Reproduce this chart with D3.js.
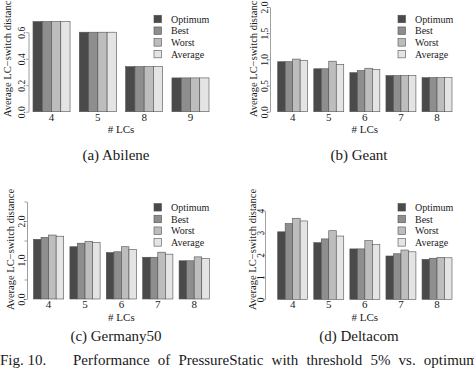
<!DOCTYPE html>
<html lang="en">
<head>
<meta charset="utf-8">
<title>LC-switch distance</title>
<script src="https://d3js.org/d3.v7.min.js"></script>
<style>
  body { margin: 0; background: #fff; }
  text { font-family: "Liberation Serif", "Times New Roman", serif; fill: #1a1a1a; }
</style>
</head>
<body>
<div id="chart"></div>
<script>
// series shared by every panel
var seriesNames = ["Optimum", "Best", "Worst", "Average"];

// (a) Abilene
var abileneLCs = ["4", "5", "8", "9"];
var abileneOptimum = [0.68, 0.60, 0.34, 0.255];
var abileneBest    = [0.68, 0.60, 0.34, 0.255];
var abileneWorst   = [0.68, 0.60, 0.34, 0.255];
var abileneAverage = [0.68, 0.60, 0.34, 0.255];

// (b) Geant
var geantLCs = ["4", "5", "6", "7", "8"];
var geantOptimum = [0.955, 0.82, 0.745, 0.69, 0.65];
var geantBest    = [0.955, 0.82, 0.785, 0.69, 0.65];
var geantWorst   = [1.005, 0.965, 0.83, 0.69, 0.65];
var geantAverage = [0.98, 0.905, 0.81, 0.69, 0.65];

// (c) Germany50
var germanyLCs = ["4", "5", "6", "7", "8"];
var germanyOptimum = [1.53, 1.34, 1.19, 1.07, 0.98];
var germanyBest    = [1.58, 1.43, 1.21, 1.07, 0.98];
var germanyWorst   = [1.64, 1.48, 1.34, 1.20, 1.08];
var germanyAverage = [1.61, 1.45, 1.27, 1.15, 1.04];

// (d) Deltacom
var deltacomLCs = ["4", "5", "6", "7", "8"];
var deltacomOptimum = [3.04, 2.55, 2.27, 1.95, 1.80];
var deltacomBest    = [3.41, 2.72, 2.27, 2.05, 1.85];
var deltacomWorst   = [3.65, 3.09, 2.64, 2.22, 1.89];
var deltacomAverage = [3.53, 2.85, 2.46, 2.14, 1.87];

var yTicksA = [0, 0.2, 0.4, 0.6];
var yTicksB = [0, 0.5, 1, 1.5, 2];
var yTicksC = [0, 0.5, 1, 1.5, 2, 2.5];
var yTicksD = [0, 1, 2, 3, 4];

var fills = ["#4a4a4a", "#8e8e8e", "#bdbdbd", "#e4e4e4"];

var width = 474, height = 374;

var svg = d3.select("#chart").append("svg")
    .attr("width", width)
    .attr("height", height);

var f1 = d3.format(".1f");

// layout of each panel
var panels = [
  { title: "(a) Abilene", lcs: abileneLCs,
    values: [abileneOptimum, abileneBest, abileneWorst, abileneAverage],
    xr: [33, 209], pad: 0.2, yd: [0, 0.6], yr: [111.7, 32.2], ticks: yTicksA,
    fmt: f1, axisX: 28.5, tickLabX: 22, ylab: [7.5, 56.5],
    xTickY: 121, xLabY: 133, legend: [154, 19], cap: [116, 160] },
  { title: "(b) Geant", lcs: geantLCs,
    values: [geantOptimum, geantBest, geantWorst, geantAverage],
    xr: [277.7, 452], pad: 0.17, yd: [0, 2], yr: [111.7, 7], ticks: yTicksB,
    fmt: f1, axisX: 270, tickLabX: 264.8, ylab: [253.5, 56.5],
    xTickY: 121, xLabY: 133, legend: [398, 19], cap: [359, 160] },
  { title: "(c) Germany50", lcs: germanyLCs,
    values: [germanyOptimum, germanyBest, germanyWorst, germanyAverage],
    xr: [33.5, 209.3], pad: 0.17, yd: [0, 2.5], yr: [299, 201.5], ticks: yTicksC,
    fmt: function(d) { return d % 1 === 0 ? f1(d) : ""; },
    axisX: 27, tickLabX: 22, ylab: [10.5, 249.5],
    xTickY: 308, xLabY: 321, legend: [154, 207.3], cap: [116, 341] },
  { title: "(d) Deltacom", lcs: deltacomLCs,
    values: [deltacomOptimum, deltacomBest, deltacomWorst, deltacomAverage],
    xr: [277.7, 452], pad: 0.17, yd: [0, 4], yr: [299.3, 210.5], ticks: yTicksD,
    fmt: d3.format("d"), axisX: 265, tickLabX: 260.5, ylab: [252, 249.5],
    xTickY: 308, xLabY: 321, legend: [398, 207.3], cap: [359, 341] }
];

panels.forEach(function(p) {
  var g = svg.append("g");

  var x = d3.scaleBand().domain(p.lcs).range(p.xr).paddingInner(p.pad).paddingOuter(0);
  var xs = d3.scaleBand().domain(seriesNames).range([0, x.bandwidth()]);
  var y = d3.scaleLinear().domain(p.yd).range(p.yr);

  // bars
  var rows = [];
  p.lcs.forEach(function(lc, i) {
    seriesNames.forEach(function(s, j) {
      rows.push({ lc: lc, s: s, j: j, v: p.values[j][i] });
    });
  });

  g.selectAll("rect.bar")
    .data(rows)
    .enter().append("rect")
    .attr("class", "bar")
    .attr("x", function(d) { return x(d.lc) + xs(d.s); })
    .attr("y", function(d) { return y(d.v); })
    .attr("width", xs.bandwidth())
    .attr("height", function(d) { return y(0) - y(d.v); })
    .attr("fill", function(d) { return fills[d.j]; })
    .attr("stroke", "#505050")
    .attr("stroke-width", 0.6);

  // x tick labels
  g.selectAll("text.xt")
    .data(p.lcs)
    .enter().append("text")
    .attr("class", "xt")
    .attr("x", function(d) { return x(d) + x.bandwidth() / 2; })
    .attr("y", p.xTickY)
    .attr("text-anchor", "middle")
    .attr("font-size", 11)
    .text(function(d) { return d; });

  g.append("text")
    .attr("x", (p.xr[0] + p.xr[1]) / 2)
    .attr("y", p.xLabY)
    .attr("text-anchor", "middle")
    .attr("font-size", 11)
    .text("# LCs");

  // y axis
  var ax = g.append("g")
    .attr("transform", "translate(" + p.axisX + ",0)")
    .call(d3.axisLeft(y).tickValues(p.ticks).tickSize(2.5).tickSizeOuter(0).tickFormat(p.fmt));
  ax.select(".domain").attr("stroke", "#777").attr("stroke-width", 0.7);
  ax.selectAll(".tick line").attr("stroke", "#777").attr("stroke-width", 0.7);
  ax.selectAll(".tick text")
    .attr("x", null)
    .attr("dy", "0.35em")
    .attr("transform", "translate(" + (p.tickLabX - p.axisX) + ",0) rotate(-90)")
    .attr("text-anchor", "middle")
    .attr("font-family", "Liberation Serif")
    .attr("font-size", 9.5)
    .attr("fill", "#1a1a1a");

  g.append("text")
    .attr("transform", "translate(" + p.ylab[0] + "," + p.ylab[1] + ") rotate(-90)")
    .attr("dy", "0.35em")
    .attr("text-anchor", "middle")
    .attr("font-size", 10.5)
    .text("Average LC\u2212switch distance");

  // legend
  var leg = g.selectAll("g.leg")
    .data(seriesNames)
    .enter().append("g")
    .attr("class", "leg")
    .attr("transform", function(d, j) {
      return "translate(" + p.legend[0] + "," + (p.legend[1] + j * 11.7) + ")";
    });
  leg.append("rect")
    .attr("x", 0).attr("y", -3.75)
    .attr("width", 7.5).attr("height", 7.5)
    .attr("fill", function(d, j) { return fills[j]; })
    .attr("stroke", "#505050")
    .attr("stroke-width", 0.6);
  leg.append("text")
    .attr("x", 17)
    .attr("dy", "0.35em")
    .attr("font-size", 10)
    .text(function(d) { return d; });

  // sub caption
  g.append("text")
    .attr("x", p.cap[0])
    .attr("y", p.cap[1])
    .attr("text-anchor", "middle")
    .attr("font-size", 15)
    .text(p.title);
});

// figure caption, justified to the page width
svg.append("text")
  .attr("x", 0)
  .attr("y", 365)
  .attr("font-size", 15)
  .text("Fig. 10.");

var words = ["Performance", "of", "PressureStatic", "with", "threshold", "5%", "vs.", "optimum"];
var cap = svg.append("text")
  .attr("x", 73)
  .attr("y", 365)
  .attr("font-size", 15)
  .text(words.join(" "));
var natural = cap.node().getComputedTextLength();
cap.attr("word-spacing", (478 - 73 - natural) / (words.length - 1));
</script>
</body>
</html>
